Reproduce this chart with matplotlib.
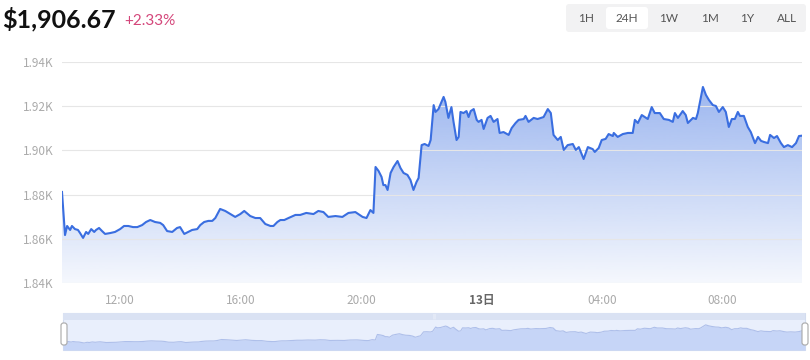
import numpy as np
import matplotlib.pyplot as plt
from matplotlib.patches import FancyBboxPatch, Rectangle

# hours since 00:00 on the 12th, price in USD
hours = [10.07, 10.17, 10.24, 10.34, 10.40, 10.50, 10.60, 10.67, 10.77, 10.87, 10.94, 11.04, 11.14, 11.20,
         11.30, 11.40, 11.50, 11.67, 11.83, 12.00, 12.13, 12.27, 12.43, 12.57, 12.73, 12.86, 13.00, 13.16,
         13.33, 13.43, 13.56, 13.73, 13.89, 13.99, 14.13, 14.26, 14.39, 14.56, 14.66, 14.79, 14.93, 15.06,
         15.16, 15.32, 15.49, 15.66, 15.82, 15.99, 16.12, 16.32, 16.49, 16.65, 16.82, 16.99, 17.09, 17.22,
         17.32, 17.45, 17.59, 17.82, 17.98, 18.18, 18.42, 18.58, 18.75, 18.91, 19.15, 19.38, 19.58, 19.81,
         20.05, 20.18, 20.31, 20.41, 20.48, 20.58, 20.68, 20.74, 20.81, 20.88, 20.98, 21.08, 21.21, 21.31,
         21.41, 21.54, 21.64, 21.74, 21.84, 21.91, 22.01, 22.11, 22.24, 22.31, 22.41, 22.47, 22.57, 22.74,
         22.80, 22.90, 23.00, 23.07, 23.17, 23.24, 23.30, 23.40, 23.50, 23.57, 23.64, 23.74, 23.84, 23.90,
         24.00, 24.07, 24.20, 24.30, 24.40, 24.53, 24.60, 24.73, 24.90, 25.00, 25.13, 25.23, 25.40, 25.46,
         25.56, 25.73, 25.86, 26.06, 26.20, 26.30, 26.39, 26.53, 26.63, 26.73, 26.86, 27.03, 27.13, 27.23,
         27.39, 27.53, 27.69, 27.76, 27.89, 27.99, 28.12, 28.22, 28.36, 28.39, 28.52, 28.69, 28.86, 29.02,
         29.09, 29.19, 29.32, 29.42, 29.52, 29.65, 29.75, 29.92, 30.05, 30.22, 30.35, 30.42, 30.52, 30.68,
         30.78, 30.85, 31.02, 31.12, 31.18, 31.35, 31.45, 31.55, 31.68, 31.78, 31.88, 32.01, 32.11, 32.21,
         32.31, 32.41, 32.51, 32.58, 32.71, 32.84, 32.94, 33.08, 33.18, 33.28, 33.38, 33.51, 33.58, 33.71,
         33.81, 33.94, 34.04, 34.17, 34.31, 34.44, 34.54, 34.64]
price = [1881.2, 1861.7, 1865.8, 1864.0, 1865.8, 1864.4, 1864.0, 1862.6, 1860.4, 1863.1, 1862.2, 1864.4,
         1863.1, 1864.0, 1864.9, 1863.5, 1862.2, 1862.6, 1863.1, 1864.4, 1865.8, 1865.8, 1865.3, 1865.3,
         1866.2, 1867.6, 1868.5, 1867.6, 1867.2, 1866.2, 1863.5, 1863.1, 1864.9, 1865.3, 1862.2, 1863.1,
         1864.0, 1864.4, 1866.2, 1867.6, 1868.1, 1868.1, 1869.4, 1873.5, 1872.6, 1871.2, 1869.9, 1871.2,
         1872.6, 1870.3, 1869.4, 1869.4, 1866.7, 1865.8, 1865.8, 1867.6, 1868.5, 1868.5, 1869.4, 1870.8,
         1870.8, 1871.7, 1871.2, 1872.6, 1872.1, 1869.9, 1870.3, 1869.9, 1871.7, 1872.1, 1869.9, 1869.4,
         1873.0, 1871.7, 1892.5, 1890.7, 1888.0, 1884.3, 1884.3, 1882.1, 1889.8, 1892.5, 1895.2, 1892.0,
         1889.8, 1888.9, 1886.6, 1882.1, 1885.7, 1887.5, 1902.4, 1902.9, 1902.0, 1904.7, 1920.5, 1917.4,
         1918.7, 1924.2, 1921.9, 1914.7, 1919.6, 1912.9, 1904.7, 1906.1, 1917.4, 1916.9, 1917.8, 1915.1,
         1917.8, 1918.7, 1913.8, 1912.9, 1913.8, 1909.7, 1914.7, 1915.6, 1912.9, 1914.2, 1907.9, 1908.3,
         1907.0, 1910.1, 1912.4, 1913.8, 1914.2, 1915.6, 1912.9, 1914.7, 1914.2, 1915.1, 1918.7, 1916.9,
         1907.0, 1904.7, 1906.1, 1900.2, 1902.4, 1902.9, 1900.2, 1901.5, 1896.1, 1901.5, 1900.6, 1899.3,
         1901.1, 1904.7, 1905.2, 1907.4, 1906.5, 1907.9, 1906.1, 1907.4, 1907.9, 1907.9, 1913.8, 1912.4,
         1916.0, 1915.1, 1914.2, 1919.6, 1916.9, 1916.9, 1914.2, 1913.8, 1912.9, 1916.9, 1914.7, 1917.8,
         1916.0, 1912.4, 1914.7, 1914.2, 1916.9, 1928.7, 1925.1, 1922.8, 1920.5, 1920.1, 1917.4, 1919.6,
         1917.4, 1910.6, 1914.2, 1914.2, 1917.4, 1915.6, 1915.6, 1910.6, 1908.3, 1903.3, 1906.1, 1904.3,
         1903.8, 1903.3, 1907.0, 1905.6, 1906.5, 1903.3, 1901.5, 1902.4, 1901.5, 1903.3, 1906.5, 1906.67]

y_ticks = [1840, 1860, 1880, 1900, 1920, 1940]
y_labels = ["1.84K", "1.86K", "1.88K", "1.90K", "1.92K", "1.94K"]
x_ticks = [12, 16, 20, 24, 28, 32]
x_labels = ["12:00", "16:00", "20:00", "13日", "04:00", "08:00"]
ranges = ["1H", "24H", "1W", "1M", "1Y", "ALL"]
selected = "24H"
last_price = "$1,906.67"
change = "+2.33%"

LINE = "#3a6ee0"
W, H = 810, 360
cjk = ["Noto Sans CJK SC", "DejaVu Sans"]

fig = plt.figure(figsize=(W / 100, H / 100), dpi=100)

# background decorations in pixel coords (y from top)
deco = fig.add_axes([0, 0, 1, 1], zorder=0)
deco.set_xlim(0, W)
deco.set_ylim(H, 0)
deco.axis("off")

# header
deco.text(2, 19, last_price, fontsize=18, fontweight="bold", family="Lato", color="#111111", va="center")
deco.text(124, 21, change, fontsize=11, family="Lato", color="#d4467a", va="center")

# range buttons
deco.add_patch(FancyBboxPatch((566, 4), 240, 28, boxstyle="round,pad=0,rounding_size=3",
                              fc="#f2f2f3", ec="none"))
btn_x = [586, 627, 669, 710, 747, 787]
for lab, bx in zip(ranges, btn_x):
    if lab == selected:
        deco.add_patch(FancyBboxPatch((bx - 21, 7), 42, 22, boxstyle="round,pad=0,rounding_size=3",
                                      fc="white", ec="none"))
    deco.text(bx, 18.5, lab, fontsize=8.5, family="Lato", color="#555555", ha="center", va="center")

# slider box
deco.add_patch(Rectangle((63, 313), 742, 37, fc="#e9effc", ec="#d3dcee", lw=0.8))
deco.add_patch(Rectangle((63, 313), 742, 7, fc="#dae2f3", ec="none"))
deco.text(434, 316.5, "||", fontsize=4, color="#ffffff", ha="center", va="center")

# main chart
ax = fig.add_axes([62 / W, 1 - 283 / H, 740 / W, 221 / H], zorder=1)
ax.set_facecolor("none")
ax.set_xlim(hours[0], hours[-1])
ax.set_ylim(1840, 1940)

poly = ax.fill_between(hours, price, 1840, facecolor="none", edgecolor="none")
grad = np.zeros((256, 1, 4))
grad[..., 0] = 0x3a / 255
grad[..., 1] = 0x6e / 255
grad[..., 2] = 0xe0 / 255
grad[:, 0, 3] = np.linspace(0.5, 0.05, 256)
img = ax.imshow(grad, extent=[hours[0], hours[-1], 1840, max(price)], aspect="auto",
                origin="upper", interpolation="bicubic", zorder=1)
img.set_clip_path(poly.get_paths()[0], transform=ax.transData)
ax.plot(hours, price, color=LINE, lw=1.5, zorder=3, solid_joinstyle="round")

ax.set_yticks(y_ticks)
ax.set_yticklabels(y_labels)
ax.set_xticks(x_ticks)
ax.set_xticklabels(x_labels)
ax.grid(axis="y", color="#e6e6e6", lw=0.8, zorder=0)
for s in ax.spines.values():
    s.set_visible(False)
ax.tick_params(axis="both", length=0, labelsize=8.5, labelcolor="#aaaaaa")
ax.tick_params(axis="y", pad=6)
ax.tick_params(axis="x", pad=8)
for t in ax.get_yticklabels() + ax.get_xticklabels():
    t.set_family(cjk)
for t in ax.get_xticklabels():
    if t.get_text() == "13日":
        t.set_color("#666666")
        t.set_fontweight("bold")

# slider mini chart
sx = fig.add_axes([63 / W, 1 - 350 / H, 742 / W, 30 / H], zorder=2)
sx.set_facecolor("none")
sx.set_xlim(hours[0], hours[-1])
sx.set_ylim(1834, 1947)
sx.fill_between(hours, price, 1834, color="#c6d5f7", lw=0)
sx.plot(hours, price, color="#aebfea", lw=0.8)
sx.axis("off")

# slider handles
top = fig.add_axes([0, 0, 1, 1], zorder=3)
top.set_xlim(0, W)
top.set_ylim(H, 0)
top.axis("off")
for hx in [64, 805]:
    top.add_patch(FancyBboxPatch((hx - 3, 323), 6, 22, boxstyle="round,pad=0,rounding_size=2.5",
                                 fc="white", ec="#a8a8a8", lw=0.8))

fig.savefig("out.png", dpi=100)
